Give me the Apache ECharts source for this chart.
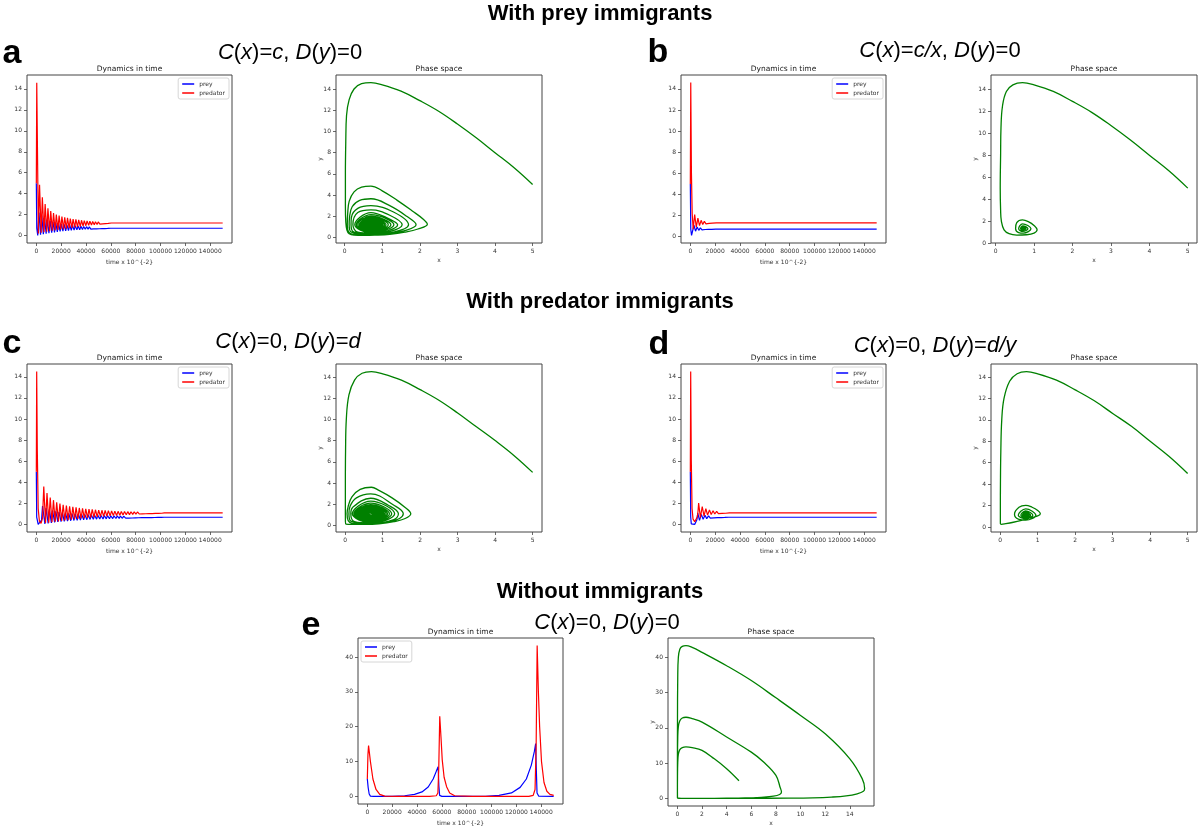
<!DOCTYPE html>
<html><head><meta charset="utf-8">
<script src="https://cdn.jsdelivr.net/npm/echarts@6/dist/echarts.min.js"></script>
<style>html,body{margin:0;padding:0;background:#fff}#c{width:1200px;height:827px}</style>
</head><body><div id="c"></div>
<script>
// ---------------- tick labels ----------------
const timeTicks = [0,20000,40000,60000,80000,100000,120000,140000];
const y14Ticks = [0,2,4,6,8,10,12,14];
const x5Ticks = [0,1,2,3,4,5];
const y40Ticks = [0,10,20,30,40];
const x14Ticks = [0,2,4,6,8,10,12,14];
const seriesNames = ['prey','predator'];

// ---------------- panel a : C(x)=c, D(y)=0 ----------------
const aPrey = [[0,5],[350,0.7],[1150,0.02],[2150,2.2],[3400,0.07],[4400,1.9],[5650,0.12],[6650,1.7],[7900,0.17],[8900,1.53],[10150,0.22],[11150,1.41],[12400,0.27],[13400,1.31],[14650,0.31],[15650,1.23],[16900,0.35],[17900,1.16],[19150,0.39],[20150,1.1],[21400,0.42],[22400,1.06],[23650,0.45],[24650,1.02],[25900,0.48],[26900,0.99],[28150,0.5],[29150,0.96],[30400,0.52],[31400,0.93],[32650,0.54],[33650,0.91],[34900,0.56],[35900,0.89],[37150,0.58],[38150,0.87],[39400,0.6],[40400,0.85],[41650,0.61],[42650,0.83],[43900,0.62],[44900,0.81],[46150,0.63],[47150,0.79],[48400,0.64],[49400,0.78],[50650,0.65],[51650,0.77],[52900,0.66],[53900,0.76],[55150,0.67],[56150,0.74],[57400,0.68],[58400,0.73],[60000,0.7],[150000,0.7]];
const aPred = [[0,5],[350,14.6],[1650,0.2],[2600,4.85],[3900,0.26],[4850,3.65],[6150,0.31],[7100,3.0],[8400,0.36],[9350,2.6],[10650,0.41],[11600,2.35],[12900,0.46],[13850,2.15],[15150,0.5],[16100,2.0],[17400,0.54],[18350,1.9],[19650,0.58],[20600,1.82],[21900,0.62],[22850,1.75],[24150,0.66],[25100,1.69],[26400,0.7],[27350,1.63],[28650,0.74],[29600,1.58],[30900,0.78],[31850,1.54],[33150,0.82],[34100,1.5],[35400,0.86],[36350,1.46],[37650,0.9],[38600,1.43],[39900,0.94],[40850,1.4],[42150,0.97],[43100,1.37],[44400,1.0],[45350,1.34],[46650,1.03],[47600,1.32],[48900,1.06],[49850,1.3],[51150,1.09],[52100,1.28],[53400,1.12],[54350,1.26],[55650,1.14],[56600,1.24],[57900,1.16],[58850,1.22],[60500,1.2],[150000,1.2]];
const aPhase = [[5,5],[4.5,6.6],[4,8.0],[3.5,9.4],[3,10.7],[2.5,11.9],[2,12.9],[1.5,13.8],[1,14.4],[0.7,14.6],[0.45,14.5],[0.25,14.0],[0.12,13.0],[0.05,11.5],[0.03,9],[0.02,6],[0.02,3],[0.03,1.5],[0.06,0.7],[0.12,0.35],[0.25,0.22],[0.5,0.2],[0.8,0.22],[1.2,0.3],[1.6,0.5],[1.95,0.8],[2.2,1.25],[2.1,1.7],[1.8,2.5],[1.4,3.5],[1.0,4.4],[0.7,4.85],
[0.45,4.75],[0.25,4.3],[0.12,3.4],[0.08,2.2],[0.07,1.2],[0.1,0.55],[0.2,0.32],[0.7,0.26],[1.2,0.38],[1.6,0.65],[1.9,1.2],[1.65,2.0],[1.2,3.0],[0.7,3.65],
[0.4,3.5],[0.2,2.9],[0.13,1.9],[0.12,1.2],[0.18,0.5],[0.7,0.31],[1.3,0.5],[1.7,1.2],[1.3,2.4],[0.7,3.0],
[0.35,2.75],[0.18,1.9],[0.17,1.2],[0.25,0.5],[0.7,0.36],[1.2,0.55],[1.53,1.2],[1.2,2.1],[0.7,2.6],
[0.35,2.35],[0.22,1.2],[0.35,0.5],[0.7,0.41],[1.41,1.2],[1.1,1.9],[0.7,2.35],
[0.27,1.2],[0.7,0.46],[1.31,1.2],[0.7,2.15],[0.31,1.2],[0.7,0.5],[1.23,1.2],[0.7,2.0],[0.35,1.2],[0.7,0.54],[1.16,1.2],[0.7,1.9],[0.39,1.2],[0.7,0.58],[1.1,1.2],[0.7,1.82],[0.42,1.2],[0.7,0.62],[1.06,1.2],[0.7,1.75],[0.45,1.2],[0.7,0.66],[1.02,1.2],[0.7,1.69],[0.48,1.2],[0.7,0.7],[0.99,1.2],[0.7,1.63],[0.5,1.2],[0.7,0.74],[0.96,1.2],[0.7,1.58],[0.52,1.2],[0.7,0.78],[0.93,1.2],[0.7,1.54],[0.54,1.2],[0.7,0.82],[0.91,1.2],[0.7,1.5],[0.56,1.2],[0.7,0.86],[0.89,1.2],[0.7,1.46],[0.58,1.2],[0.7,0.9],[0.87,1.2],[0.7,1.43],[0.6,1.2],[0.7,0.94],[0.85,1.2],[0.7,1.4],[0.61,1.2],[0.7,0.97],[0.83,1.2],[0.7,1.37],[0.62,1.2],[0.7,1.0],[0.81,1.2],[0.7,1.34],[0.63,1.2],[0.7,1.03],[0.79,1.2],[0.7,1.32],[0.64,1.2],[0.7,1.06],[0.78,1.2],[0.7,1.3],[0.65,1.2],[0.7,1.09],[0.77,1.2],[0.7,1.28],[0.66,1.2],[0.7,1.12],[0.76,1.2],[0.7,1.26],[0.67,1.2],[0.7,1.14],[0.74,1.2],[0.7,1.24],[0.68,1.2],[0.7,1.16],[0.73,1.2],[0.7,1.22],[0.7,1.2]];

// ---------------- panel b : C(x)=c/x, D(y)=0 ----------------
const bPrey = [[0,5],[350,0.7],[1000,0.12],[1800,0.3],[2900,1.08],[4200,0.52],[5500,0.92],[6800,0.6],[8100,0.84],[9400,0.65],[10700,0.79],[12000,0.68],[13300,0.76],[14600,0.69],[15900,0.74],[17200,0.70],[18500,0.73],[20500,0.72],[150000,0.72]];
const bPred = [[0,5],[350,14.6],[900,6],[1500,2.2],[2300,0.7],[3500,2.1],[4800,0.9],[6100,1.75],[7400,1.05],[8700,1.55],[10000,1.15],[11300,1.45],[12600,1.22],[13900,1.38],[15200,1.26],[16500,1.34],[17800,1.28],[19100,1.32],[21000,1.3],[150000,1.3]];
const bPhase = [[5,5],[4.5,6.6],[4,8.0],[3.5,9.4],[3,10.7],[2.5,11.9],[2,12.9],[1.5,13.8],[1,14.4],[0.7,14.6],[0.45,14.4],[0.28,13.8],[0.18,12.5],[0.14,10.5],[0.13,8],[0.12,5],[0.13,3],[0.15,2.0],[0.22,1.2],[0.35,0.85],[0.55,0.72],[0.8,0.75],[1.0,0.9],[1.08,1.2],[1.0,1.6],[0.85,1.95],[0.7,2.1],
[0.55,1.85],[0.52,1.3],[0.6,0.95],[0.72,0.9],[0.92,1.3],[0.7,1.75],[0.6,1.3],[0.71,1.05],[0.84,1.3],[0.71,1.55],[0.65,1.3],[0.71,1.15],[0.79,1.3],[0.71,1.45],[0.68,1.3],[0.71,1.22],[0.76,1.3],[0.71,1.38],[0.69,1.3],[0.71,1.26],[0.74,1.3],[0.71,1.34],[0.70,1.3],[0.71,1.28],[0.73,1.3],[0.71,1.32],[0.71,1.3]];

// ---------------- panel c : C(x)=0, D(y)=d ----------------
const cPrey = [[0,5],[300,0.7],[1500,0.005],[3000,0.03],[4200,0.4],[5000,1.75],[6900,0.05],[7900,1.55],[9500,0.1],[10500,1.42],[12100,0.15],[13100,1.32],[14700,0.19],[15700,1.24],[17300,0.23],[18300,1.18],[19900,0.26],[20900,1.13],[22500,0.29],[23500,1.09],[25100,0.32],[26100,1.05],[27700,0.35],[28700,1.02],[30300,0.37],[31300,0.99],[32900,0.39],[33900,0.97],[35500,0.41],[36500,0.95],[38100,0.43],[39100,0.93],[40700,0.45],[41700,0.91],[43300,0.47],[44300,0.89],[45900,0.49],[46900,0.87],[48500,0.5],[49500,0.86],[51100,0.51],[52100,0.85],[53700,0.52],[54700,0.84],[56300,0.53],[57300,0.83],[58900,0.54],[59900,0.82],[61500,0.55],[62500,0.81],[64100,0.56],[65100,0.80],[66700,0.57],[67700,0.79],[69300,0.58],[70300,0.78],[71900,0.59],[72900,0.77],[74500,0.6],[75500,0.76],[77100,0.61],[78100,0.75],[79700,0.62],[80700,0.745],[82300,0.63],[83300,0.74],[84900,0.635],[85900,0.735],[87500,0.64],[88500,0.73],[90100,0.645],[91100,0.72],[92700,0.65],[93700,0.715],[95300,0.655],[96300,0.71],[97900,0.66],[98900,0.705],[100500,0.665],[101500,0.70],[103000,0.68],[150000,0.68]];
const cPred = [[0,5],[300,14.5],[800,7],[1500,1.5],[2500,0.3],[3800,0.1],[5000,0.6],[6000,3.6],[7400,0.13],[8600,2.97],[10000,0.17],[11200,2.56],[12600,0.21],[13800,2.3],[15200,0.25],[16400,2.1],[17800,0.29],[19000,1.97],[20400,0.33],[21600,1.87],[23000,0.37],[24200,1.79],[25600,0.41],[26800,1.72],[28200,0.45],[29400,1.66],[30800,0.49],[32000,1.61],[33400,0.53],[34600,1.56],[36000,0.56],[37200,1.52],[38600,0.59],[39800,1.48],[41200,0.62],[42400,1.45],[43800,0.65],[45000,1.42],[46400,0.68],[47600,1.39],[49000,0.71],[50200,1.36],[51600,0.74],[52800,1.34],[54200,0.77],[55400,1.32],[56800,0.79],[58000,1.30],[59400,0.81],[60600,1.28],[62000,0.83],[63200,1.26],[64600,0.85],[65800,1.24],[67200,0.87],[68400,1.23],[69800,0.89],[71000,1.22],[72400,0.91],[73600,1.21],[75000,0.93],[76200,1.2],[77600,0.95],[78800,1.19],[80200,0.97],[81400,1.18],[82800,0.99],[84000,1.17],[85400,1.0],[86600,1.16],[88000,1.01],[89200,1.15],[90600,1.02],[91800,1.14],[93200,1.03],[94400,1.13],[95800,1.04],[97000,1.125],[98400,1.05],[99600,1.12],[101000,1.06],[103000,1.09],[150000,1.09]];
const cPhase = [[5,5],[4.5,6.6],[4,8.0],[3.5,9.3],[3,10.6],[2.5,11.8],[2,12.8],[1.5,13.7],[1,14.3],[0.7,14.5],[0.45,14.35],[0.25,13.7],[0.1,12.3],[0.03,10],[0.01,7],[0.005,4],[0.005,1.5],[0.006,0.4],[0.02,0.12],[0.2,0.1],[0.5,0.1],[0.9,0.15],[1.3,0.35],[1.6,0.65],[1.75,1.1],[1.6,1.7],[1.25,2.6],[0.9,3.3],[0.7,3.6],
[0.4,3.4],[0.18,2.7],[0.08,1.8],[0.05,1.09],[0.08,0.45],[0.2,0.18],[0.68,0.13],[1.15,0.3],[1.45,0.65],[1.55,1.09],[1.3,1.9],[0.68,2.97],
[0.3,2.6],[0.13,1.8],[0.1,1.09],[0.15,0.4],[0.68,0.17],[1.3,0.55],[1.42,1.09],[1.15,1.9],[0.68,2.56],
[0.2,1.7],[0.15,1.09],[0.25,0.35],[0.68,0.21],[1.32,1.09],[0.68,2.3],
[0.19,1.09],[0.68,0.25],[1.24,1.09],[0.68,2.1],[0.23,1.09],[0.68,0.29],[1.18,1.09],[0.68,1.97],[0.26,1.09],[0.68,0.33],[1.13,1.09],[0.68,1.87],[0.29,1.09],[0.68,0.37],[1.09,1.09],[0.68,1.79],[0.32,1.09],[0.68,0.41],[1.05,1.09],[0.68,1.72],[0.35,1.09],[0.68,0.45],[1.02,1.09],[0.68,1.66],[0.37,1.09],[0.68,0.49],[0.99,1.09],[0.68,1.61],[0.39,1.09],[0.68,0.53],[0.97,1.09],[0.68,1.56],[0.41,1.09],[0.68,0.56],[0.95,1.09],[0.68,1.52],[0.43,1.09],[0.68,0.59],[0.93,1.09],[0.68,1.48],[0.45,1.09],[0.68,0.62],[0.91,1.09],[0.68,1.45],[0.47,1.09],[0.68,0.65],[0.89,1.09],[0.68,1.42],[0.49,1.09],[0.68,0.68],[0.87,1.09],[0.68,1.39],[0.5,1.09],[0.68,0.71],[0.86,1.09],[0.68,1.36],[0.51,1.09],[0.68,0.74],[0.85,1.09],[0.68,1.34],[0.52,1.09],[0.68,0.77],[0.84,1.09],[0.68,1.32],[0.53,1.09],[0.68,0.79],[0.83,1.09],[0.68,1.3],[0.54,1.09],[0.68,0.81],[0.82,1.09],[0.68,1.28],[0.55,1.09],[0.68,0.83],[0.81,1.09],[0.68,1.26],[0.56,1.09],[0.68,0.85],[0.8,1.09],[0.68,1.24],[0.57,1.09],[0.68,0.87],[0.79,1.09],[0.68,1.23],[0.58,1.09],[0.68,0.89],[0.78,1.09],[0.68,1.22],[0.59,1.09],[0.68,0.91],[0.77,1.09],[0.68,1.21],[0.6,1.09],[0.68,0.93],[0.76,1.09],[0.68,1.2],[0.61,1.09],[0.68,0.95],[0.75,1.09],[0.68,1.19],[0.62,1.09],[0.68,0.97],[0.745,1.09],[0.68,1.18],[0.63,1.09],[0.68,0.99],[0.74,1.09],[0.68,1.17],[0.68,1.09]];

// ---------------- panel d : C(x)=0, D(y)=d/y ----------------
const dPrey = [[0,5],[300,0.7],[800,0.05],[1500,0.008],[3500,0.004],[4500,0.08],[5300,0.45],[6000,1.07],[7400,0.38],[8900,0.95],[10300,0.48],[11800,0.87],[13200,0.55],[14700,0.81],[16100,0.59],[17600,0.77],[19000,0.62],[20500,0.74],[21900,0.64],[23400,0.72],[24800,0.65],[26300,0.71],[27700,0.66],[29200,0.70],[31000,0.68],[150000,0.68]];
const dPred = [[0,5],[300,14.5],[800,6],[1400,1.5],[2200,0.5],[3500,0.26],[4800,0.4],[5600,0.7],[6200,1.25],[6700,2.03],[8100,0.65],[9600,1.7],[11000,0.8],[12500,1.5],[13900,0.88],[15400,1.38],[16800,0.94],[18300,1.3],[19700,0.99],[21200,1.24],[22600,1.02],[24100,1.2],[25500,1.04],[27000,1.16],[28400,1.06],[29900,1.14],[31500,1.1],[150000,1.1]];
const dPhase = [[5,5],[4.5,6.6],[4,8.0],[3.5,9.4],[3,10.6],[2.5,11.8],[2,12.8],[1.5,13.7],[1,14.3],[0.7,14.5],[0.45,14.3],[0.25,13.6],[0.1,12],[0.04,10],[0.015,7],[0.005,4],[0.003,2],[0.003,0.8],[0.004,0.3],[0.03,0.26],[0.15,0.32],[0.35,0.45],[0.54,0.6],[0.8,0.85],[1.0,1.05],[1.07,1.25],[1.0,1.55],[0.85,1.85],[0.68,2.03],
[0.5,1.85],[0.38,1.2],[0.5,0.72],[0.68,0.65],[0.95,1.1],[0.68,1.7],[0.48,1.1],[0.68,0.8],[0.87,1.1],[0.68,1.5],[0.55,1.1],[0.68,0.88],[0.81,1.1],[0.68,1.38],[0.59,1.1],[0.68,0.94],[0.77,1.1],[0.68,1.3],[0.62,1.1],[0.68,0.99],[0.74,1.1],[0.68,1.24],[0.64,1.1],[0.68,1.02],[0.72,1.1],[0.68,1.2],[0.65,1.1],[0.68,1.04],[0.71,1.1],[0.68,1.16],[0.66,1.1],[0.68,1.06],[0.70,1.1],[0.68,1.14],[0.68,1.1]];

// ---------------- panel e : C(x)=0, D(y)=0 ----------------
const ePrey = [[0,5],[700,2.5],[1500,0.7],[2500,0.1],[5000,0.01],[20000,0.02],[30000,0.2],[38000,0.6],[44000,1.3],[49000,2.7],[53000,5],[55500,7.2],[57000,8.5],[57600,3],[58200,0.3],[60000,0.02],[75000,0.002],[95000,0.02],[106000,0.3],[116000,1.0],[123000,2.6],[128000,5],[132000,9],[134500,13],[135500,15.2],[136000,8],[136600,1],[138000,0.05],[150000,0.01]];
const ePred = [[0,5],[500,12],[1000,14.6],[2500,10],[4500,5],[7000,2],[10000,0.6],[14000,0.1],[25000,0.01],[50000,0.01],[55500,0.2],[56800,1],[57500,8],[58300,23],[59300,17],[60300,10.5],[61800,5.5],[63800,2.8],[66300,1],[70300,0.2],[85000,0.01],[130000,0.01],[133500,0.3],[135000,2],[135900,15],[136700,43.3],[137700,30],[138700,20],[140200,10],[142200,4],[144500,1.5],[147000,0.6],[150000,0.3]];
const ePhase = [[5,5],[4,8.4],[3,11.2],[2,13.6],[1.2,14.4],[0.7,14.6],[0.4,14.4],[0.2,13.8],[0.08,12.5],[0.03,10],[0.01,6],[0.005,2],[0.005,0.5],[0.01,0.1],[0.3,0.01],[2,0.01],[4,0.03],[5.5,0.1],[6.8,0.3],[7.8,0.6],[8.3,1.1],[8.45,1.8],[8.35,3.0],[8,6.5],[7,10.3],[6,13.1],[4,17.4],[2,21.6],[1.2,22.6],[0.7,23],[0.4,22.8],[0.2,22.0],[0.08,20.3],[0.03,17],[0.01,10],[0.005,3],[0.005,0.5],[0.01,0.1],[0.5,0.01],[3,0.01],[6,0.02],[9,0.06],[11,0.15],[12.5,0.35],[13.7,0.7],[14.6,1.3],[15.1,2.0],[15.2,2.8],[15,5.6],[14,11.2],[12,18.3],[10,23.5],[8,28.5],[6,33.4],[4,37.6],[2,41.4],[1.2,42.8],[0.7,43.3],[0.4,43.1],[0.2,42.3],[0.08,40],[0.03,34],[0.01,22],[0.005,8],[0.005,2],[0.01,0.4]];

// ---------------- build chart ----------------
const FONT = '"DejaVu Sans", sans-serif';
const SANS = '"Liberation Sans", Arial, sans-serif';
const BLUE = '#0000ff', RED = '#ff0000', GREEN = '#008000';
const grids=[], xAxes=[], yAxes=[], series=[], legends=[], graphics=[];

function axis(type, i, range, ticks, name, gap){
  return {
    type:'value', gridIndex:i, min:range[0], max:range[1],
    axisLine:{show:false, onZero:false}, splitLine:{show:false},
    axisTick:{show:true, customValues:ticks, length:3, lineStyle:{color:'#444', width:0.8}},
    axisLabel:{customValues:ticks, fontSize:6, color:'#333', margin:5, fontFamily:FONT, formatter:v=>String(v)},
    name:name||'', nameLocation:'middle', nameGap:gap, nameRotate: type==='y'?90:0, nameMoveOverlap:false,
    nameTextStyle:{fontSize:6, color:'#333', fontFamily:FONT}
  };
}
function addPlot(o){
  const i = grids.length;
  grids.push({left:o.left, top:o.top, width:o.w, height:o.h, show:true, borderColor:'#444', borderWidth:1, backgroundColor:'#fff'});
  xAxes.push(axis('x', i, o.xr, o.xt, o.xname, o.xgap));
  yAxes.push(axis('y', i, o.yr, o.yt, o.yname, 13));
  o.series.forEach(s=>series.push({type:'line', name:s.name, xAxisIndex:i, yAxisIndex:i, data:s.data,
    showSymbol:false, symbol:'none', smooth:s.smooth||false, clip:true, silent:true,
    lineStyle:{color:s.color, width:s.lw||1.2}, itemStyle:{color:s.color}}));
  graphics.push({type:'text', x:o.left+o.w/2, y:o.top-6, silent:true,
    style:{text:o.title, font:'7.5px '+FONT, fill:'#222', align:'center', verticalAlign:'middle', textAlign:'center', textVerticalAlign:'middle'}});
  if(o.legend){
    const L = {show:true, orient:'vertical', data:seriesNames, top:o.top+3, icon:'rect', itemWidth:12, itemHeight:1.5, itemGap:3,
      textStyle:{fontSize:6, color:'#333', fontFamily:FONT}, padding:[3,4,3,4], borderColor:'#ccc', borderWidth:0.8,
      borderRadius:2, backgroundColor:'#fff', selectedMode:false};
    if(o.legend==='right') L.right = 1200-(o.left+o.w)+3; else L.left = o.left+3;
    legends.push(L);
  }
}
function timePlot(left, top, yr, yt, prey, pred, legendSide){
  addPlot({left, top, w:205, h:168, xr:[-7500,157500], xt:timeTicks, yr, yt, xname:'time x 10^{-2}', xgap:16,
    title:'Dynamics in time', legend:legendSide,
    series:[{name:'prey', data:prey, color:BLUE},{name:'predator', data:pred, color:RED}]});
}
function phasePlot(left, top, xr, xt, yr, yt, ph){
  addPlot({left, top, w:206, h:168, xr, xt, yr, yt, xname:'x', yname:'y', xgap:14, title:'Phase space',
    series:[{name:'phase', data:ph, color:GREEN, smooth:0.4, lw:1.3}]});
}
const R1=75, R2=364, R3=638;
timePlot(27, R1, [-0.71,15.33], y14Ticks, aPrey, aPred, 'right');
phasePlot(336, R1, [-0.23,5.25], x5Ticks, [-0.52,15.32], y14Ticks, aPhase);
timePlot(681, R1, [-0.6,15.32], y14Ticks, bPrey, bPred, 'right');
phasePlot(991, R1, [-0.12,5.24], x5Ticks, [0,15.3], y14Ticks, bPhase);
timePlot(27, R2, [-0.72,15.22], y14Ticks, cPrey, cPred, 'right');
phasePlot(336, R2, [-0.245,5.25], x5Ticks, [-0.62,15.22], y14Ticks, cPhase);
timePlot(681, R2, [-0.72,15.22], y14Ticks, dPrey, dPred, 'right');
phasePlot(991, R2, [-0.247,5.25], x5Ticks, [-0.46,15.21], y14Ticks, dPhase);
timePlot(358, R3, [-2.17,45.47], y40Ticks, ePrey, ePred, 'left');
phasePlot(668, R3, [-0.76,15.96], x14Ticks, [-2.17,45.47], y40Ticks, ePhase);

// ---------------- figure texts ----------------
function txt(x, y, text, font, rich){
  graphics.push({type:'text', x, y, silent:true, style:{text, font, fill:'#000', align:'center', verticalAlign:'middle', textAlign:'center', textVerticalAlign:'middle', rich}});
}
const HF = 'bold 22px '+SANS, LF = 'bold 34px '+SANS, FF = '22px '+SANS;
const rich = {i:{fontStyle:'italic', fontSize:22, fontFamily:SANS, fill:'#000'}};
txt(600, 14, 'With prey immigrants', HF);
txt(600, 302, 'With predator immigrants', HF);
txt(600, 592, 'Without immigrants', HF);
txt(12, 54, 'a', LF); txt(658, 53, 'b', LF); txt(12, 344, 'c', LF); txt(659, 345, 'd', LF); txt(311, 626, 'e', LF);
txt(290, 53, '{i|C}({i|x})={i|c}, {i|D}({i|y})=0', FF, rich);
txt(940, 51, '{i|C}({i|x})={i|c/x}, {i|D}({i|y})=0', FF, rich);
txt(288, 342, '{i|C}({i|x})=0, {i|D}({i|y})={i|d}', FF, rich);
txt(935, 346, '{i|C}({i|x})=0, {i|D}({i|y})={i|d/y}', FF, rich);
txt(607, 623, '{i|C}({i|x})=0, {i|D}({i|y})=0', FF, rich);

const chart = echarts.init(document.getElementById('c'), null, {renderer:'canvas'});
chart.setOption({animation:false, backgroundColor:'#fff', grid:grids, xAxis:xAxes, yAxis:yAxes, series, legend:legends, graphic:graphics});
</script></body></html>
